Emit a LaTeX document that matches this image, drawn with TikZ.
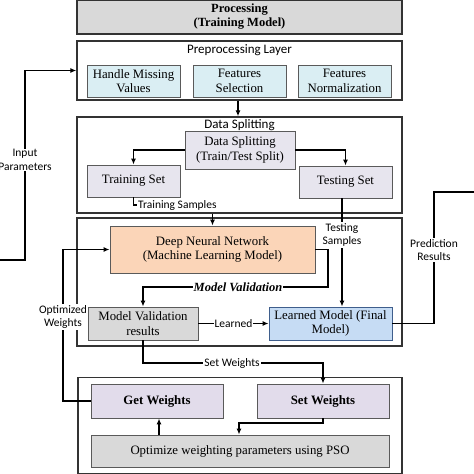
\documentclass[tikz,border=0pt]{standalone}
\usepackage{fontspec}
\setmainfont{Liberation Serif}
\newfontfamily\lblfont{Carlito}
\usetikzlibrary{arrows.meta,calc}
\definecolor{hdrgray}{HTML}{D9D9D9}
\definecolor{ltblue}{HTML}{DAEEF3}
\definecolor{lavgray}{HTML}{E7E5EE}
\definecolor{orng}{HTML}{FBD5B8}
\definecolor{lmblue}{HTML}{C6DCF4}
\definecolor{lmborder}{HTML}{3F5E8C}
\definecolor{lav}{HTML}{E2DCEB}
\definecolor{boxline}{HTML}{333333}
\definecolor{inline}{HTML}{5A5A5A}
\tikzset{
  outerbox/.style={draw=boxline, line width=1.4pt, inner sep=0pt},
  innerbox/.style={draw=inline, line width=0.9pt, align=center, inner sep=0pt,
     font=\fontsize{12.8}{14.5}\selectfont},
  boldbox/.style={innerbox, font=\bfseries\fontsize{12.8}{14.5}\selectfont},
  conn/.style={line width=1.2pt, draw=black},
  arr/.style={conn, -{Latex[length=6pt,width=5pt]}},
  lbl/.style={font=\lblfont\fontsize{11.5}{13.5}\selectfont, fill=white, inner sep=1pt, align=center},
  ttl/.style={font=\lblfont\fontsize{13}{15}\selectfont, inner sep=0pt}
}
\begin{document}
\begin{tikzpicture}[x=1pt,y=-1pt]
\useasboundingbox (0,0) rectangle (474,474);
\begin{scope}
\clip (0,0) rectangle (474,474);
% outer boxes
\node[outerbox, fill=hdrgray, minimum width=325pt, minimum height=34pt, align=center,
  font=\bfseries\fontsize{12.5}{14}\selectfont] (proc) at (239.5,17) {Processing\\(Training Model)};
\node[outerbox, minimum width=325pt, minimum height=59pt] (pre) at (239.5,70.5) {};
\node[outerbox, minimum width=325pt, minimum height=96pt] (dsb) at (239.5,165) {};
\node[outerbox, minimum width=325pt, minimum height=128pt] (mb) at (239.5,282) {};
\node[outerbox, minimum width=324pt, minimum height=96pt] (wb) at (240,425.5) {};
% titles
\node[ttl] (pretitle) at (239.5,50) {Preprocessing Layer};
\node[ttl] (dstitle) at (239.5,125) {Data Splitting};
% preprocessing inner
\node[innerbox, fill=ltblue, minimum width=93pt, minimum height=32pt] (hmv) at (133.5,81) {Handle Missing\\Values};
\node[innerbox, fill=ltblue, minimum width=93pt, minimum height=32pt] (fs) at (239.5,81) {Features\\Selection};
\node[innerbox, fill=ltblue, minimum width=93pt, minimum height=32pt] (fn) at (344.5,81) {Features\\Normalization};
% data splitting
\node[innerbox, fill=lavgray, minimum width=110pt, minimum height=38pt] (ds) at (240,150) {Data Splitting\\(Train/Test Split)};
\node[innerbox, fill=lavgray, minimum width=93pt, minimum height=32pt] (trs) at (133.5,181) {Training Set};
\node[innerbox, fill=lavgray, minimum width=93pt, minimum height=32pt] (tes) at (345.5,182) {Testing Set};
% model
\node[innerbox, fill=orng, minimum width=205pt, minimum height=47pt] (dnn) at (212.5,249.5) {Deep Neural Network\\(Machine Learning Model)};
\node[innerbox, fill=hdrgray, minimum width=110pt, minimum height=33pt] (mvr) at (143,323.5) {Model Validation\\results};
\node[innerbox, draw=lmborder, fill=lmblue, minimum width=123pt, minimum height=33pt] (lm) at (330.5,323.5) {Learned Model (Final\\Model)};
% weights
\node[boldbox, fill=lav, minimum width=132pt, minimum height=34pt] (gw) at (157,401) {Get Weights};
\node[boldbox, fill=lav, minimum width=132pt, minimum height=34pt] (sw) at (323,401) {Set Weights};
\node[innerbox, fill=hdrgray, minimum width=298pt, minimum height=32pt] (opt) at (240,451) {Optimize weighting parameters using PSO};
% coordinates
\coordinate (inL) at (0,260);
\coordinate (inC) at (25,260);
\coordinate (predR) at (474,192);
% connectors
\draw[arr] (238,0 |- pre.south) -- (238,0 |- dsb.north);
\draw[arr] (ds.west) -| (trs.north);
\draw[arr] (ds.east) -| (tes.north);
\node[lbl, anchor=west, inner sep=1pt] (trsamp) at (137,205) {Training Samples};
\draw[conn] (trs.south) |- (trsamp.west);
\draw[arr] (dnn.north |- dsb.south) -- (dnn.north);
\coordinate (tsTop) at (342,0 |- tes.south);
\coordinate (tsBot) at (342,0 |- lm.north);
\draw[arr] (tsTop) -- (tsBot);
\node[lbl] (tsamp) at (342,235) {Testing\\Samples};
\coordinate (mv1) at (328,0 |- dnn.east);
\coordinate (mv2) at (328,287);
\draw[arr] (dnn.east) -- (mv1) -- (mv2) -| (mvr.north);
\node[lbl, font=\bfseries\itshape\fontsize{12.5}{14}\selectfont] (mvlab) at (238,287) {Model Validation};
\draw[arr] (mvr.east) -- (lm.west) node[lbl, midway] (learned) {Learned};
\coordinate (pr1) at (434,0 |- lm.east);
\draw[conn] (lm.east) -- (pr1) |- (predR);
\node[lbl] (predlab) at (434,250) {Prediction\\Results};
\draw[arr] (inL) -- (inC) |- (pre.west);
\node[lbl] (inlab) at (25,160) {Input\\Parameters};
\coordinate (ow) at (63,0 |- gw.west);
\draw[arr] (gw.west) -- (ow) |- (dnn.west);
\node[lbl] (owlab) at (63,317) {Optimized\\Weights};
\coordinate (sw1) at (143,363);
\draw[arr] (mvr.south) -- (sw1) -| (sw.north);
\node[lbl] (swlab) at (232,363) {Set Weights};
\draw[arr] (159,0 |- opt.north) -- (159,0 |- gw.south);
\coordinate (sw2) at (323,423);
\draw[arr] (sw.south) -- (sw2) -| (239,0 |- opt.north);
\end{scope}
\end{tikzpicture}
\end{document}
